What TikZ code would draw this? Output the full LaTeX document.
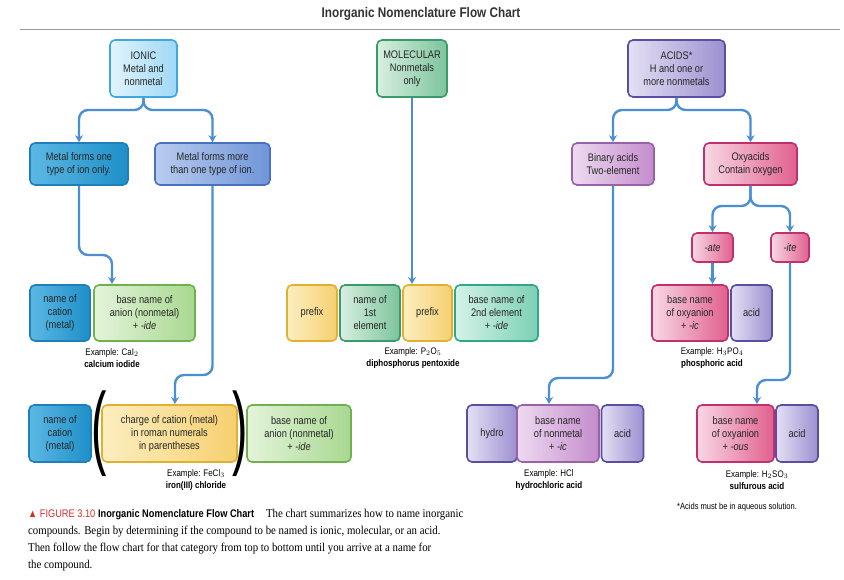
\documentclass[tikz,border=0pt]{standalone}
\usepackage{fontspec}
\usetikzlibrary{arrows.meta}
\newfontfamily\cf{Liberation Sans}[FakeStretch=0.84]
\newfontfamily\capf{Liberation Serif}[FakeStretch=0.9]
\setmainfont{Liberation Sans}[FakeStretch=0.84]
\definecolor{conn}{HTML}{4A8ED4}
\definecolor{bluL}{HTML}{E2F4FD}\definecolor{bluD}{HTML}{9FD8F5}\definecolor{bluB}{HTML}{40A8E0}
\definecolor{cyL}{HTML}{5CB8E4}\definecolor{cyD}{HTML}{1E8FC8}\definecolor{cyB}{HTML}{1F7FB8}
\definecolor{mbL}{HTML}{B8CCEE}\definecolor{mbD}{HTML}{6F95D8}\definecolor{mbB}{HTML}{4A70C0}
\definecolor{grL}{HTML}{D8EFE0}\definecolor{grD}{HTML}{7CC49C}\definecolor{grB}{HTML}{3A9A6A}
\definecolor{puL}{HTML}{E4E0F4}\definecolor{puD}{HTML}{9C90D0}\definecolor{puB}{HTML}{5A4EA0}
\definecolor{viL}{HTML}{EEDAF0}\definecolor{viD}{HTML}{C38CCC}\definecolor{viB}{HTML}{9A60A8}
\definecolor{piL}{HTML}{F8D8E4}\definecolor{piD}{HTML}{E0608E}\definecolor{piB}{HTML}{C03070}
\definecolor{lgL}{HTML}{E4F4DA}\definecolor{lgD}{HTML}{A8D890}\definecolor{lgB}{HTML}{70B050}
\definecolor{yeL}{HTML}{FCEEC0}\definecolor{yeD}{HTML}{F6D070}\definecolor{yeB}{HTML}{E0B030}
\definecolor{tqL}{HTML}{D4F2E8}\definecolor{tqD}{HTML}{7CD0B4}\definecolor{tqB}{HTML}{30A888}
\definecolor{capred}{HTML}{D42E2E}
\tikzset{
  bx/.style={rounded corners=5pt, line width=1.6pt, align=center, inner sep=1pt, font=\cf\fontsize{11}{13}\selectfont, text=black!85},
  bblue/.style={bx, draw=bluB, left color=bluL, right color=bluD},
  bcyan/.style={bx, draw=cyB, left color=cyL, right color=cyD},
  bmb/.style={bx, draw=mbB, left color=mbL, right color=mbD},
  bgreen/.style={bx, draw=grB, left color=grL, right color=grD},
  bpur/.style={bx, draw=puB, left color=puL, right color=puD},
  bvio/.style={bx, draw=viB, left color=viL, right color=viD},
  bpink/.style={bx, draw=piB, left color=piL, right color=piD},
  blg/.style={bx, draw=lgB, left color=lgL, right color=lgD},
  byel/.style={bx, draw=yeB, left color=yeL, right color=yeD},
  btq/.style={bx, draw=tqB, left color=tqL, right color=tqD},
  cn/.style={draw=conn, line width=2.4pt, rounded corners=9pt, -{Stealth[length=7pt,width=8pt]}},
  cnp/.style={draw=conn, line width=2.4pt, rounded corners=9pt},
  ex/.style={font=\cf\fontsize{9.5}{12}\selectfont, align=center, inner sep=0pt},
}
\newcommand{\bxat}[6]{\node[#1, minimum width=#4pt, minimum height=#5pt] (#2) at (#3) {#6};}
\begin{document}
\begin{tikzpicture}[x=1pt,y=-1pt]
\useasboundingbox (0,0) rectangle (844,580);
\fill[white] (0,0) rectangle (844,580);
\node[font=\cf\bfseries\fontsize{14}{16}\selectfont, text=black!80] (title) at (421,14) {Inorganic Nomenclature Flow Chart};
\draw[black!40, line width=0.6pt] (20,29) -- (840,29);
% top
\bxat{bblue}{ionic}{143.5,68.5}{67}{57}{IONIC\\Metal and\\nonmetal}
\bxat{bgreen}{mol}{412,68.5}{70}{57}{MOLECULAR\\Nonmetals\\only}
\bxat{bpur}{acids}{676.5,68.5}{97}{57}{ACIDS*\\H and one or\\more nonmetals}
% second
\bxat{bcyan}{one}{79,164}{98}{42}{Metal forms one\\type of ion only.}
\bxat{bmb}{more}{212.5,164}{115}{42}{Metal forms more\\than one type of ion.}
\bxat{bvio}{bin}{613,164}{82}{42}{Binary acids\\Two-element}
\bxat{bpink}{oxy}{750.5,164}{93}{42}{Oxyacids\\Contain oxygen}
\bxat{bpink}{ate}{712.5,247.5}{41}{29}{\itshape -ate}
\bxat{bpink}{ite}{790,247.5}{38}{29}{\itshape -ite}
% row 3
\bxat{bcyan}{cat1}{60,313}{60}{56}{name of\\cation\\(metal)}
\bxat{blg}{an1}{144.5,313}{101}{56}{base name of\\anion (nonmetal)\\+ \textit{-ide}}
\bxat{byel}{pre1}{312,313}{50}{56}{prefix}
\bxat{bgreen}{first}{370,313}{60}{56}{name of\\1st\\element}
\bxat{byel}{pre2}{427.5,313}{49}{56}{prefix}
\bxat{btq}{second}{496.5,313}{83}{56}{base name of\\2nd element\\+ \textit{-ide}}
\bxat{bpink}{oxan1}{690,313}{76}{56}{base name\\of oxyanion\\+ \textit{-ic}}
\bxat{bpur}{acid1}{751.5,313}{41}{56}{acid}
% row 4
\bxat{bcyan}{cat2}{60,433.5}{62}{57}{name of\\cation\\(metal)}
\bxat{byel}{charge}{169.5,433.5}{135}{57}{charge of cation (metal)\\in roman numerals\\in parentheses}
\bxat{blg}{an2}{299,433.5}{104}{57}{base name of\\anion (nonmetal)\\+ \textit{-ide}}
\bxat{bpur}{hydro}{492,433.5}{50}{57}{hydro}
\bxat{bvio}{nonm}{558,433.5}{82}{57}{base name\\of nonmetal\\+ \textit{-ic}}
\bxat{bpur}{acid2}{622.5,433.5}{42}{57}{acid}
\bxat{bpink}{oxan2}{735.5,433.5}{77}{57}{base name\\of oxyanion\\+ \textit{-ous}}
\bxat{bpur}{acid3}{797,433.5}{42}{57}{acid}
% parentheses
\node[font=\fontsize{92}{92}\selectfont\addfontfeature{FakeStretch=0.5}, inner sep=0pt] (lp) at (99,434) {(};
\node[font=\fontsize{92}{92}\selectfont\addfontfeature{FakeStretch=0.5}, inner sep=0pt] (rp) at (240,434) {)};
% examples
\node[ex] (e1) at (112,358) {Example: CaI$_2$\\\textbf{calcium iodide}};
\node[ex] (e2) at (413,358) {Example: P$_2$O$_5$\\\textbf{diphosphorus pentoxide}};
\node[ex] (e3) at (712,358) {Example: H$_3$PO$_4$\\\textbf{phosphoric acid}};
\node[ex] (e4) at (196,480) {Example: FeCl$_3$\\\textbf{iron(III) chloride}};
\node[ex] (e5) at (549,480) {Example: HCl\\\textbf{hydrochloric acid}};
\node[ex] (e6) at (757,480) {Example: H$_2$SO$_3$\\\textbf{sulfurous acid}};
\node[ex, font=\cf\fontsize{9}{11}\selectfont] (note) at (737,507) {*Acids must be in aqueous solution.};
% caption
\node[anchor=west, inner sep=0pt, font=\capf\fontsize{12}{14}\selectfont] (c1) at (28,515) {{\cf\color{capred}\fontsize{11}{13}\selectfont ▲ FIGURE 3.10} {\cf\bfseries\fontsize{11}{13}\selectfont Inorganic Nomenclature Flow Chart}\quad The chart summarizes how to name inorganic};
\node[anchor=west, inner sep=0pt, font=\capf\fontsize{12}{14}\selectfont] (c2) at (28,532) {compounds. Begin by determining if the compound to be named is ionic, molecular, or an acid.};
\node[anchor=west, inner sep=0pt, font=\capf\fontsize{12}{14}\selectfont] (c3) at (28,549) {Then follow the flow chart for that category from top to bottom until you arrive at a name for};
\node[anchor=west, inner sep=0pt, font=\capf\fontsize{12}{14}\selectfont] (c4) at (28,566) {the compound.};
% connector end points
\coordinate (t1) at (175,404);
\coordinate (t2) at (549,404);
\coordinate (t3) at (757,404);
\coordinate (t4) at (112,284);
\coordinate (t5) at (412,284);
\coordinate (t6) at (712.5,284);
% connectors
\draw[cn] (ionic.south) |- (79,110) -- (one.north);
\draw[cn] (ionic.south) |- (212.5,110) -- (more.north);
\draw[cn] (one.south) |- (112,255) -- (t4);
\draw[cn] (more.south) |- (175,375) -- (t1);
\draw[cn] (mol.south) -- (t5);
\draw[cn] (acids.south) |- (613,110) -- (bin.north);
\draw[cn] (acids.south) |- (750.5,110) -- (oxy.north);
\draw[cn] (bin.south) |- (549,378) -- (t2);
\draw[cn] (oxy.south) |- (712.5,206) -- (ate.north);
\draw[cn] (oxy.south) |- (790,206) -- (ite.north);
\draw[cn] (ate.south) -- (t6);
\draw[cn] (ite.south) |- (757,380) -- (t3);
\end{tikzpicture}
\end{document}
